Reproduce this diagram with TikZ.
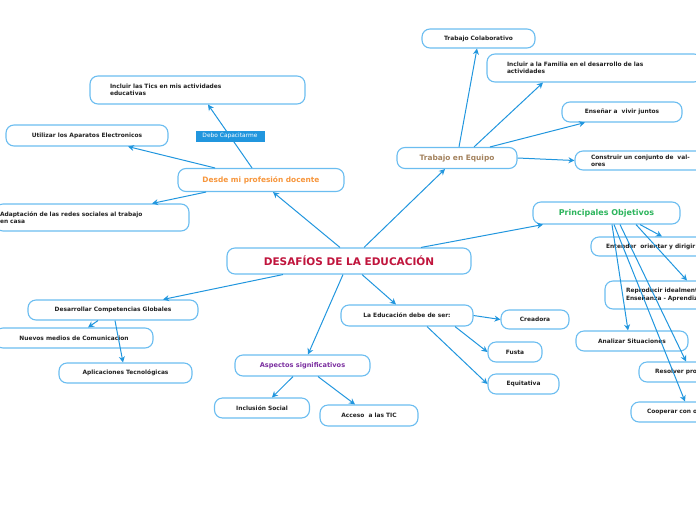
\documentclass[tikz,border=0pt]{standalone}
\usepackage{fontspec}
\usetikzlibrary{arrows.meta}
\setmainfont{DejaVu Sans}
\definecolor{bord}{HTML}{6BBDF0}
\definecolor{arr}{HTML}{2196DE}
\definecolor{ttl}{HTML}{C0143C}
\definecolor{org}{HTML}{F7963C}
\definecolor{tan}{HTML}{A3825E}
\definecolor{grn}{HTML}{2DB55D}
\definecolor{pur}{HTML}{7B2FA0}
\definecolor{txt}{HTML}{222222}
\tikzset{
 box/.style={draw=bord,line width=1.1pt,fill=white,rounded corners=8pt,inner sep=0pt,font=\bfseries\fontsize{5.9}{7.4}\selectfont,text=txt},
 ln/.style={draw=arr,line width=1pt,-{Stealth[length=6pt,width=6pt]}},
}
\begin{document}
\begin{tikzpicture}[x=1pt,y=-1pt]
\useasboundingbox (0,0) rectangle (696,520);
% nodes
\node[box,minimum width=244,minimum height=26,font=\bfseries\fontsize{10.5}{12}\selectfont,text=ttl] (c) at (349,261) {DESAFÍOS DE LA EDUCACIÓN};
\node[box,minimum width=166,minimum height=23,font=\bfseries\fontsize{7.4}{9}\selectfont,text=org] (d) at (261,180) {Desde mi profesión docente};
\node[box,minimum width=215,minimum height=28,text width=175,align=left] (tics) at (197.5,90) {Incluir las Tics en mis actividades\\educativas};
\node[box,minimum width=162,minimum height=21] (apa) at (87,135.5) {Utilizar los Aparatos Electronicos};
\node[box,minimum width=194,minimum height=27,text width=184,align=left] (ada) at (92,217.5) {Adaptación de las redes sociales al trabajo\\en casa};
\node[box,minimum width=120,minimum height=21,font=\bfseries\fontsize{7.4}{9}\selectfont,text=tan] (te) at (457,158) {Trabajo en Equipo};
\node[box,minimum width=113,minimum height=19] (col) at (478.5,38.5) {Trabajo Colaborativo};
\node[box,minimum width=215,minimum height=28,text width=175,align=left] (fam) at (594.5,68) {Incluir a la Familia en el desarrollo de las\\actividades};
\node[box,minimum width=120,minimum height=20] (ens) at (622,112) {Enseñar a\ \ vivir juntos};
\node[box,minimum width=140,minimum height=19,text width=108,align=left] (con) at (645,160.5) {Construir un conjunto de\ \ valores};
\node[box,minimum width=147,minimum height=22,font=\bfseries\fontsize{8}{10}\selectfont,text=grn] (po) at (606.5,213) {Principales Objetivos};
\node[box,minimum width=130,minimum height=19,text width=100,align=left] (ent) at (656,246.5) {Entender\ \ orientar y dirigir};
\node[box,minimum width=150,minimum height=28,text width=108,align=left] (rep) at (680,295) {Reproducir idealmente la\\Enseñanza - Aprendizaje};
\node[box,minimum width=112,minimum height=20] (ana) at (632,341) {Analizar Situaciones};
\node[box,minimum width=120,minimum height=20,text width=88,align=left] (res) at (699,372) {Resolver problemas};
\node[box,minimum width=120,minimum height=20,text width=88,align=left] (coo) at (691,412) {Cooperar con otros};
\node[box,minimum width=132,minimum height=21] (le) at (407,315.5) {La Educación debe de ser:};
\node[box,minimum width=68,minimum height=19] (cre) at (535,319.5) {Creadora};
\node[box,minimum width=54,minimum height=20] (fus) at (515,352) {Fusta};
\node[box,minimum width=71,minimum height=20] (equ) at (523.5,384) {Equitativa};
\node[box,minimum width=135,minimum height=21,font=\bfseries\fontsize{6.6}{8}\selectfont,text=pur] (asp) at (302.5,365.5) {Aspectos significativos};
\node[box,minimum width=95,minimum height=20] (inc) at (262,408) {Inclusión Social};
\node[box,minimum width=98,minimum height=21] (acc) at (369,415.5) {Acceso\ \ a las TIC};
\node[box,minimum width=170,minimum height=20] (des) at (113,310) {Desarrollar Competencias Globales};
\node[box,minimum width=158,minimum height=20] (nue) at (74,338) {Nuevos medios de Comunicacion};
\node[box,minimum width=133,minimum height=20] (apl) at (125.5,373) {Aplicaciones Tecnológicas};
% edges
\draw[ln] (c.north -| 340,0) -- (d.south -| 273,0);
\draw[ln] (d.north -| 252,0) -- node[pos=0.5,fill=arr,text=white,font=\fontsize{5.9}{7}\selectfont,inner xsep=3pt,inner ysep=2pt,minimum width=69,minimum height=11] (lab) {Debo Capacitarme} (tics.south -| 208,0);
\draw[ln] (d.north -| 215,0) -- (apa.south -| 128,0);
\draw[ln] (d.south -| 206,0) -- (ada.north -| 152,0);
\draw[ln] (c.north -| 364,0) -- (te.south -| 445,0);
\draw[ln] (te.north -| 459,0) -- (col.south -| 477,0);
\draw[ln] (te.north -| 474,0) -- (fam.south -| 543,0);
\draw[ln] (te.north -| 490,0) -- (ens.south -| 585,0);
\draw[ln] (te.east) -- (con.west);
\draw[ln] (c.north -| 421,0) -- (po.south -| 543,0);
\draw[ln] (po.south -| 640,0) -- (ent.north -| 662,0);
\draw[ln] (po.south -| 636,0) -- (rep.north -| 687,0);
\draw[ln] (po.south -| 612,0) -- (ana.north -| 628,0);
\draw[ln] (po.south -| 620,0) -- (res.north -| 686,0);
\draw[ln] (po.south -| 614,0) -- (coo.north -| 685,0);
\draw[ln] (c.south -| 362,0) -- (le.north -| 396,0);
\draw[ln] (le.east) -- (cre.west);
\draw[ln] (le.south -| 455,0) -- (fus.west);
\draw[ln] (le.south -| 427,0) -- (equ.west);
\draw[ln] (c.south -| 343,0) -- (asp.north -| 308,0);
\draw[ln] (asp.south -| 293,0) -- (inc.north -| 272,0);
\draw[ln] (asp.south -| 318,0) -- (acc.north -| 355,0);
\draw[ln] (c.south -| 283,0) -- (des.north -| 163,0);
\draw[ln] (des.south -| 98,0) -- (nue.north -| 88,0);
\draw[ln] (des.south -| 115,0) -- (apl.north -| 123,0);
\end{tikzpicture}
\end{document}
